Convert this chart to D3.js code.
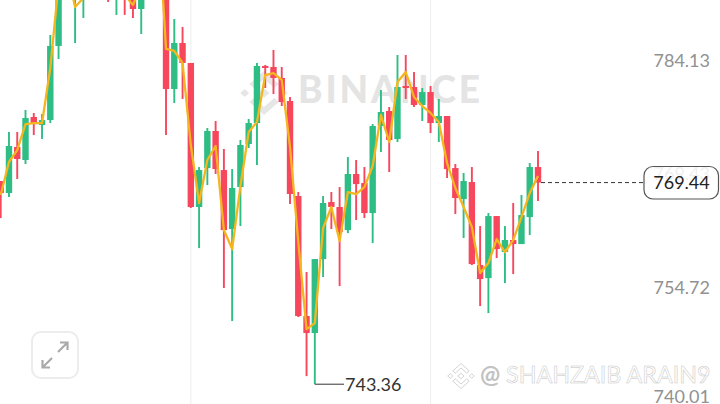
<!DOCTYPE html>
<html><head><meta charset="utf-8">
<script src="https://cdn.jsdelivr.net/npm/d3@7/dist/d3.min.js"></script>
<style>html,body{margin:0;padding:0;background:#fff;overflow:hidden}svg{display:block}</style>
</head><body><div id="c"></div>
<script>
const W=720,H=404;
const opens=[769.64,768.09,774.04,772.36,777.92,776.89,777.53,787.11,793.70,793.20,793.30,797.00,795.00,795.50,794.00,796.00,795.00,791.89,795.00,798.00,795.00,781.54,787.49,784.91,766.28,771.32,776.11,771.06,763.43,768.86,774.43,777.14,784.52,784.39,782.97,779.99,767.70,752.18,749.98,759.55,766.92,766.28,763.30,770.55,769.38,765.50,776.76,778.70,775.07,781.93,781.80,779.47,781.15,777.14,778.05,771.32,767.31,769.51,758.77,757.09,765.11,760.46,762.01,761.49,764.98,771.45];
const highs=[769.64,775.98,775.98,778.83,778.44,778.31,788.53,794.35,796.90,797.50,796.70,797.60,796.30,796.00,797.00,796.60,795.60,796.00,797.00,798.50,795.80,790.60,789.56,784.91,771.45,776.50,777.40,773.78,771.19,774.95,777.66,784.91,784.65,786.59,784.39,780.51,768.22,757.87,759.55,767.70,768.22,768.86,772.75,772.36,771.45,777.01,781.41,779.21,785.94,785.94,783.74,781.67,781.93,780.25,778.05,771.84,770.68,771.45,763.82,765.50,765.11,763.82,766.80,767.83,771.97,773.52];
const lows=[764.85,767.57,769.90,771.84,775.59,775.07,777.14,785.42,793.40,787.49,790.73,794.20,793.60,792.80,791.12,791.12,790.73,788.66,794.00,794.00,775.59,779.73,780.25,766.15,760.97,769.12,770.55,755.80,751.53,763.82,773.91,771.71,781.67,780.90,779.34,766.66,752.05,744.41,743.36,757.22,763.43,756.06,762.91,764.60,764.85,761.62,773.39,770.81,774.69,780.25,779.21,777.40,775.85,774.69,770.03,765.37,762.27,758.77,753.47,752.56,759.68,756.44,757.61,761.49,762.66,767.05];
const closes=[768.09,774.17,772.49,777.79,777.14,777.53,787.11,793.70,796.30,796.60,795.90,795.00,794.20,794.00,796.00,794.20,791.89,795.00,796.50,795.00,781.54,787.49,784.91,766.28,771.06,776.11,771.19,763.30,768.74,774.30,777.14,784.52,784.26,782.97,779.86,767.96,752.18,749.98,759.55,766.80,766.28,763.04,770.55,769.25,765.50,776.76,778.57,774.95,781.80,781.67,779.47,781.15,777.14,778.05,771.19,767.44,769.64,758.90,756.96,765.11,760.84,762.01,761.49,765.24,771.45,769.44];
const ma=[767.83,772.10,773.65,777.01,777.14,777.14,784.26,795.13,796.94,792.15,793.32,794.09,794.09,794.09,793.83,793.70,792.41,795.00,796.94,804.70,786.72,786.46,784.91,774.30,766.80,772.36,774.17,763.30,760.84,768.99,775.98,777.27,783.35,783.61,782.71,774.04,761.75,750.49,751.27,763.56,766.28,761.88,768.22,767.96,768.86,771.58,778.18,774.69,782.45,783.74,780.51,779.34,778.44,777.27,771.97,768.74,766.28,763.69,757.74,759.03,762.14,760.46,762.01,764.98,768.09,770.29];
const priceTicks=[784.13,769.43,754.72,740.01];
const timeGridIndex=[23,52];
const lastPrice=769.44, lowPrice=743.36, lowIndex=38;
const GREEN="#2FBD85",RED="#F6465D",MA="#F4B61F";

const svg=d3.select("#c").append("svg").attr("width",W).attr("height",H);
const defs=svg.append("defs");
defs.append("filter").attr("id","soft")
  .attr("filterUnits","userSpaceOnUse").attr("x",0).attr("y",0).attr("width",W).attr("height",H)
  .append("feGaussianBlur").attr("stdDeviation",0.4);
const x=d3.scaleLinear().domain([0,65]).range([0.7,538]);
const y=d3.scaleLinear().domain([784.13,754.72]).range([69,296.4]);
const FONT="Lato, 'Open Sans', sans-serif";

// grid + price axis
const axis=d3.axisLeft(y).tickValues(priceTicks).tickSize(-W).tickFormat(d3.format(".2f"));
const ag=svg.append("g").attr("class","axis").attr("transform",`translate(${W},0)`).call(axis);
ag.select(".domain").remove();
ag.selectAll("line").attr("stroke","#f0f0f0").attr("stroke-width",1.2);
ag.selectAll("text").attr("x",-10).attr("y",d=>Math.min(-9,396.5-y(d))).attr("dy","0.35em").attr("text-anchor","end")
  .attr("font-family",FONT).attr("font-size",18).attr("fill","#919191");
svg.selectAll(".vg").data(timeGridIndex).join("line").attr("class","vg")
  .attr("x1",d=>x(d)).attr("x2",d=>x(d)).attr("y1",0).attr("y2",H)
  .attr("stroke","#f0f0f0").attr("stroke-width",1.2);

// Binance mark
function mark(g,fill,stroke,sw){
  const polys=[
    [[0,-1],[.59,-.41],[.41,-.23],[0,-.64],[-.41,-.23],[-.59,-.41]],
    [[0,1],[.59,.41],[.41,.23],[0,.64],[-.41,.23],[-.59,.41]],
    [[-.77,-.18],[-.59,0],[-.77,.18],[-.95,0]],
    [[.77,-.18],[.95,0],[.77,.18],[.59,0]],
    [[0,-.22],[.22,0],[0,.22],[-.22,0]]];
  g.selectAll("polygon").data(polys).join("polygon")
   .attr("points",p=>p.map(q=>q.join(",")).join(" "))
   .attr("fill",fill).attr("stroke",stroke).attr("stroke-width",sw);
}
const wm=svg.append("g").attr("transform","translate(264,93) scale(25,22)");
mark(wm,"#e6e6e6","none",0);
svg.append("text").attr("x",298).attr("y",103).attr("font-family","Lato, sans-serif").attr("font-weight",900)
  .attr("font-size",37).attr("letter-spacing",2.9).attr("fill","#e4e4e4").text("BINANCE");

// candles
const chart=svg.append("g").attr("filter","url(#soft)");
const idx=d3.range(opens.length);
const col=i=>closes[i]>=opens[i]?GREEN:RED;
chart.append("g").selectAll("line").data(idx).join("line")
  .attr("x1",i=>x(i)).attr("x2",i=>x(i)).attr("y1",i=>y(highs[i])).attr("y2",i=>y(lows[i]))
  .attr("stroke",col).attr("stroke-width",1.9);
chart.append("g").selectAll("rect").data(idx).join("rect")
  .attr("x",i=>x(i)-3.2).attr("width",6.4)
  .attr("y",i=>y(Math.max(opens[i],closes[i])))
  .attr("height",i=>Math.max(1.5,Math.abs(y(opens[i])-y(closes[i]))))
  .attr("fill",col);

// MA line
chart.append("path").attr("d",d3.line().x((d,i)=>x(i)).y(d=>y(d))(ma))
  .attr("fill","none").attr("stroke",MA).attr("stroke-width",2.3).attr("stroke-linejoin","round");

// low marker
svg.append("line").attr("x1",x(lowIndex)).attr("x2",344).attr("y1",y(lowPrice)).attr("y2",y(lowPrice))
  .attr("stroke","#555").attr("stroke-width",1.2);
svg.append("text").attr("x",345).attr("y",y(lowPrice)).attr("dy","0.35em").attr("font-family",FONT)
  .attr("font-size",18).attr("fill","#333").text(lowPrice.toFixed(2));

// last price
svg.append("line").attr("x1",x(65)+3).attr("x2",644).attr("y1",y(lastPrice)).attr("y2",y(lastPrice))
  .attr("stroke","#333").attr("stroke-width",1).attr("stroke-dasharray","4 3");
svg.append("rect").attr("x",644).attr("y",166.5).attr("width",74.5).attr("height",32.5).attr("rx",9)
  .attr("fill","#fff").attr("fill-opacity",.85).attr("stroke","#555").attr("stroke-width",1.2);
svg.append("text").attr("x",681.5).attr("y",y(lastPrice)).attr("dy","0.35em").attr("text-anchor","middle")
  .attr("font-family",FONT).attr("font-size",18).attr("fill","#222").text(lastPrice.toFixed(2));

// expand button
svg.append("rect").attr("x",32).attr("y",332).attr("width",46).attr("height",46).attr("rx",9)
  .attr("fill","#fff").attr("stroke","#ececec").attr("stroke-width",2);
const ex=svg.append("g").attr("fill","none").attr("stroke","#aaa").attr("stroke-width",2.2);
ex.append("path").attr("d","M58 352L67.5 342.500M60 342.500H67.500V350");
ex.append("path").attr("d","M52 358L42.500 367.500M50 367.500H42.500V360");

// author watermark
const am=svg.append("g").attr("transform","translate(461,376) scale(14,12.500)");
mark(am,"#fff","#c9c9c9",.06);
svg.append("text").attr("x",480).attr("y",383).attr("font-family",FONT).attr("font-weight",700)
  .attr("font-size",24).attr("fill","#c2c2c2").text("@");
svg.append("text").attr("x",506).attr("y",383).attr("font-family",FONT).attr("font-size",23.3)
  .attr("fill","#fff").attr("stroke","#c4c4c4").attr("stroke-width",.5).text("SHAHZAIB ARAIN9");
</script></body></html>
